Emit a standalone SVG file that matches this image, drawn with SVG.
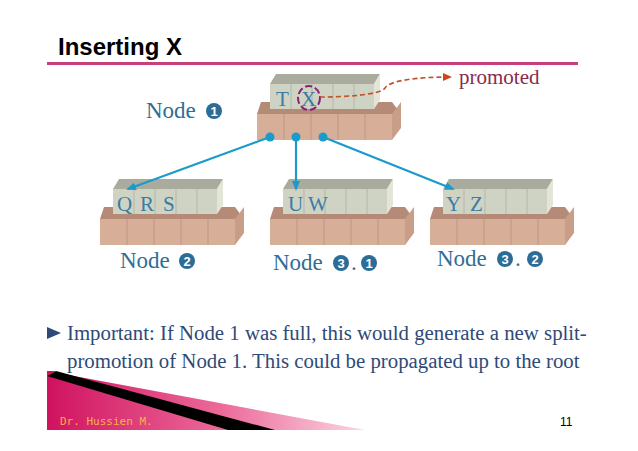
<svg xmlns="http://www.w3.org/2000/svg" width="638" height="451" viewBox="0 0 638 451">
<defs>
<style>
.gf{fill:#cfd3c4}.gt{fill:#a9ab9f}.gs{fill:#e3e6d6}
.bf{fill:#d7ae98}.bt{fill:#b58a76}.bs{fill:#c99e88}
.cell{stroke:#b99a88;stroke-width:1}
.gcell{stroke:#b3b6a8;stroke-width:1}
.key{font-family:"Liberation Serif",serif;font-size:21px;fill:#3b7ca6}
.lbl{font-family:"Liberation Serif",serif;font-size:23px;fill:#2f6e96}
.num{font-family:"Liberation Sans",sans-serif;font-size:13px;font-weight:bold;fill:#fff;text-anchor:middle}
.body{font-family:"Liberation Serif",serif;font-size:20.8px;fill:#2e4a78}
.conn{stroke:#1b9bcb;stroke-width:2.2;fill:none}
</style>
<marker id="ah" markerWidth="10" markerHeight="8" refX="8" refY="4" orient="auto" markerUnits="userSpaceOnUse"><path d="M0,0 L10,4 L0,8 Z" fill="#1b9bcb"/></marker>
<marker id="ar" markerWidth="9" markerHeight="8" refX="7" refY="4" orient="auto" markerUnits="userSpaceOnUse"><path d="M0,0 L9,4 L0,8 Z" fill="#d0441c"/></marker>
<linearGradient id="pk" x1="0" y1="0" x2="1" y2="0"><stop offset="0" stop-color="#d0125f"/><stop offset="0.55" stop-color="#ec6a9a"/><stop offset="1" stop-color="#fbd6e2"/></linearGradient>
<g id="nodeshape">
<polygon class="bt" points="4,0 135,0 144,12 0,12"/>
<rect class="bf" x="0" y="12" width="135" height="26"/>
<polygon class="bs" points="135,12 144,0 144,26 135,38"/>
<path class="cell" d="M27,12V38M54,12V38M81,12V38M108,12V38"/>
<polygon class="gt" points="19,-28 123,-28 117,-18 13,-18"/>
<rect class="gf" x="13" y="-18" width="104" height="25"/>
<polygon class="gs" points="117,-18 123,-28 123,-2 117,7"/>
<path class="gcell" d="M34,-18V7M55,-18V7M76,-18V7M97,-18V7"/>
</g>
<clipPath id="clp"><rect x="0" y="0" width="638" height="430"/></clipPath>
</defs>
<rect width="638" height="451" fill="#fff"/>
<text x="58" y="55" font-family="Liberation Sans,sans-serif" font-size="24" font-weight="bold" fill="#000">Inserting X</text>
<rect x="47" y="62" width="531" height="3" fill="#c8407a"/>

<g id="node1"><use href="#nodeshape" x="257" y="102"/>
<text class="key" x="276" y="106">T</text><text class="key" x="301" y="106">X</text>
<ellipse cx="309" cy="98" rx="11" ry="12" fill="none" stroke="#8a1f7a" stroke-width="2" stroke-dasharray="7,3"/>
<text class="lbl" x="146" y="118">Node</text><circle cx="214" cy="111" r="8" fill="#2b6d97"/><text class="num" x="214" y="116">1</text></g>

<g id="node2"><use href="#nodeshape" x="100" y="207"/>
<text class="key" x="117" y="211">Q</text><text class="key" x="140" y="211">R</text><text class="key" x="163" y="211">S</text>
<text class="lbl" x="120" y="268">Node</text><circle cx="187" cy="261" r="8" fill="#2b6d97"/><text class="num" x="187" y="266">2</text></g>

<g id="node31"><use href="#nodeshape" x="270" y="207"/>
<text class="key" x="288" y="211">U</text><text class="key" x="308" y="211">W</text>
<text class="lbl" x="273" y="270">Node</text><circle cx="341" cy="263" r="8" fill="#2b6d97"/><text class="lbl" x="351" y="270">.</text><circle cx="369" cy="263" r="8" fill="#2b6d97"/><text class="num" x="341" y="268">3</text><text class="num" x="369" y="268">1</text></g>

<g id="node32"><use href="#nodeshape" x="430" y="207"/>
<text class="key" x="446" y="211">Y</text><text class="key" x="470" y="211">Z</text>
<text class="lbl" x="437" y="266">Node</text><circle cx="505" cy="259" r="8" fill="#2b6d97"/><text class="lbl" x="515" y="266">.</text><circle cx="535" cy="259" r="8" fill="#2b6d97"/><text class="num" x="505" y="264">3</text><text class="num" x="535" y="264">2</text></g>

<g id="connectors">
<circle cx="270" cy="137" r="4.5" fill="#1b9bcb"/><circle cx="296" cy="137" r="4.5" fill="#1b9bcb"/><circle cx="323" cy="137" r="4.5" fill="#1b9bcb"/>
<line class="conn" x1="270" y1="137" x2="128" y2="189" marker-end="url(#ah)"/>
<line class="conn" x1="296" y1="137" x2="296" y2="189" marker-end="url(#ah)"/>
<line class="conn" x1="323" y1="137" x2="453" y2="189" marker-end="url(#ah)"/>
<path d="M320,97 C345,97 380,95 385,88 C390,80 420,77 450,77" fill="none" stroke="#c0522a" stroke-width="1.6" stroke-dasharray="5,3" marker-end="url(#ar)"/>
</g>
<text x="459" y="84" font-family="Liberation Serif,serif" font-size="21" fill="#8b2a4a">promoted</text>

<polygon points="47,327 61,333 47,339" fill="#2e4a78"/>
<text class="body" x="67" y="340">Important: If Node 1 was full, this would generate a new split-</text>
<text class="body" x="67" y="368">promotion of Node 1. This could be propagated up to the root</text>

<polygon points="47,371 365,430 47,430" fill="url(#pk)"/>
<polygon points="56,371 275,430 228,430 47,376" fill="#000"/>
<polygon points="47,371 56,371 47,376" fill="#d0125f"/>
<g clip-path="url(#clp)" font-family="DejaVu Sans Mono,monospace" font-size="11" fill="#f6b24a">
<text x="60" y="425">Dr. Hussien M.</text><text x="60" y="438">Sharaf</text></g>
<text x="560" y="426" font-family="Liberation Sans,sans-serif" font-size="12" fill="#000">11</text>
</svg>
